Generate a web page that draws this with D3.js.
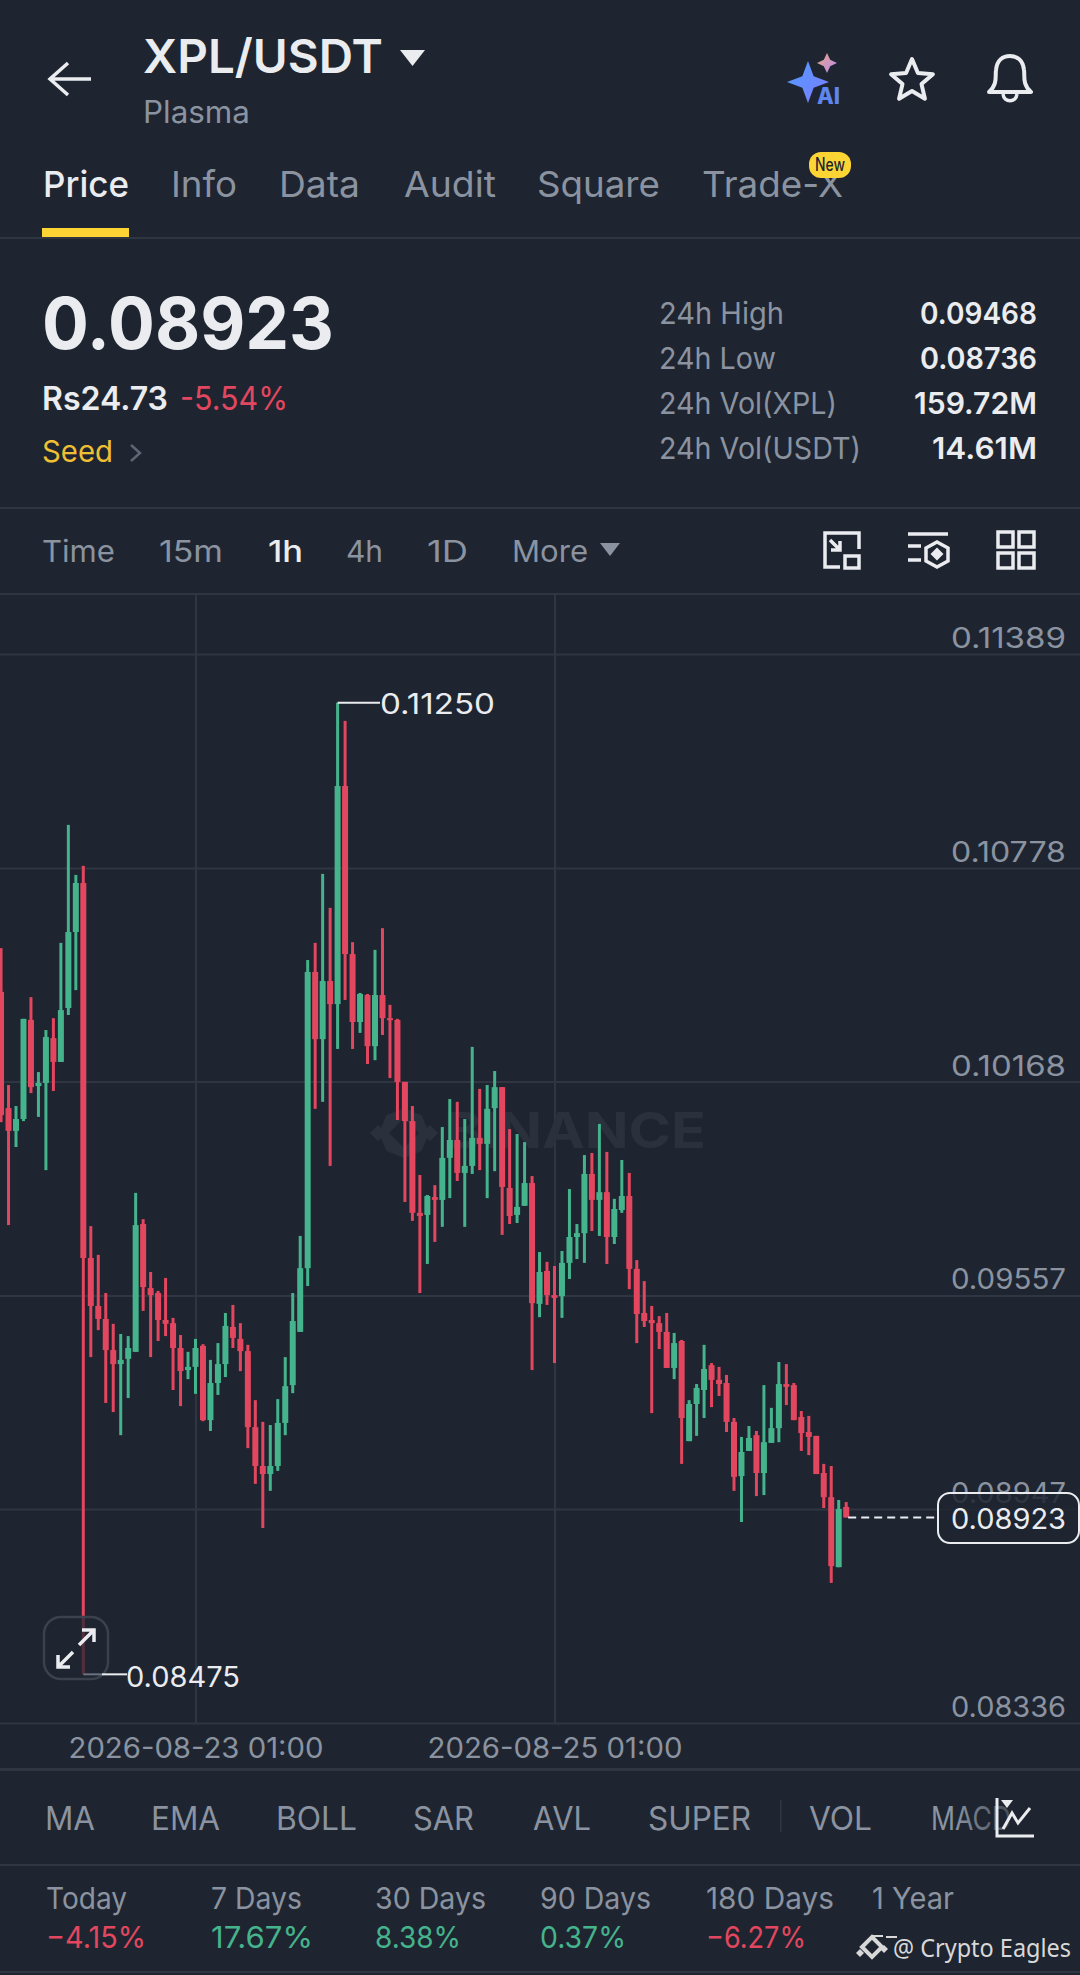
<!DOCTYPE html>
<html>
<head>
<meta charset="utf-8">
<title>XPL/USDT</title>
<script src="https://cdn.jsdelivr.net/npm/d3@7"></script>
<style>
html,body{margin:0;padding:0;background:#1e2530;}
svg{display:block;}
text{font-family:Inter,"Noto Sans",sans-serif;}
</style>
</head>
<body>
<div id="chart"></div>
<script>
// candles, one per hour, oldest first
var firstCandle = new Date(Date.UTC(2026,7,21,23));
var opens = [
	.10424,.10092,.10027,.10061,.10344,.10155,.10164,.10292,.10224,.10378,
	.10595,.10735,.09664,.09527,.09490,.09401,.09361,.09376,.09396,.09761,
	.09578,.09564,.09487,.09478,.09407,.09344,.09353,.09413,.09201,.09307,
	.09361,.09467,.09433,.09398,.09181,.09070,.09047,.09070,.09193,.09301,
	.09453,.09635,.10481,.10289,.10455,.10389,.11012,.10532,.10338,.10415,
	.10269,.10415,.10349,.10344,.10167,.10055,.09793,.09787,.09838,.09830,
	.09950,.10001,.09907,.09927,.10007,.09990,.10092,.10152,.09864,.09787,
	.09813,.09878,.09533,.09627,.09558,.09555,.09650,.09724,.09735,.09904,
	.09830,.09852,.09724,.09801,.09841,.09633,.09507,.09487,.09478,.09453,
	.09350,.09427,.09141,.09247,.09287,.09358,.09316,.09307,.09196,.09041,
	.09113,.09158,.09050,.09136,.09178,.09304,.09301,.09210,.09167,.09156,
	.09050,.08981,.08781,.08953];
var highs = [
	.10549,.10158,.10098,.10347,.10409,.10195,.10315,.10349,.10564,.10901,
	.10758,.10784,.09755,.09673,.09564,.09476,.09447,.09441,.09850,.09775,
	.09624,.09570,.09607,.09493,.09444,.09396,.09433,.09418,.09373,.09421,
	.09507,.09530,.09478,.09416,.09258,.09196,.09187,.09261,.09381,.09564,
	.09727,.10515,.10564,.10761,.10664,.11250,.11198,.10566,.10421,.10418,
	.10544,.10606,.10387,.10347,.10167,.10098,.09901,.09844,.09872,.10038,
	.10118,.10110,.10061,.10267,.10147,.10158,.10198,.10152,.10032,.10018,
	.09995,.09898,.09681,.09653,.09641,.09684,.09861,.09761,.09958,.09964,
	.10047,.09967,.09833,.09944,.09907,.09658,.09598,.09527,.09498,.09507,
	.09450,.09430,.09258,.09304,.09416,.09364,.09353,.09330,.09207,.09153,
	.09184,.09170,.09301,.09236,.09367,.09361,.09307,.09227,.09213,.09156,
	.09076,.09070,.08973,.08967];
var lows = [
	.10052,.09758,.09981,.10055,.10135,.10067,.09915,.10141,.10224,.10358,
	.10429,.08475,.09381,.09458,.09250,.09224,.09158,.09264,.09396,.09513,
	.09381,.09427,.09441,.09287,.09241,.09318,.09276,.09198,.09170,.09273,
	.09324,.09407,.09341,.09121,.09019,.08893,.08999,.09056,.09158,.09278,
	.09453,.09584,.10090,.10110,.09927,.10261,.10401,.10261,.10307,.10218,
	.10229,.10301,.10178,.10058,.09824,.09770,.09564,.09647,.09710,.09753,
	.09835,.09884,.09753,.09904,.09915,.09835,.09912,.09730,.09761,.09764,
	.09813,.09344,.09495,.09530,.09364,.09493,.09604,.09661,.09650,.09741,
	.09727,.09647,.09704,.09793,.09575,.09421,.09467,.09221,.09404,.09350,
	.09318,.09076,.09141,.09156,.09207,.09238,.09270,.09167,.08999,.08910,
	.09113,.08984,.08987,.09136,.09138,.09244,.09201,.09113,.09101,.09047,
	.08950,.08736,.08781,.08923];
var closes = [
	.10072,.10027,.10061,.10347,.10152,.10164,.10295,.10224,.10372,.10595,
	.10735,.09664,.09527,.09490,.09401,.09361,.09373,.09407,.09758,.09581,
	.09558,.09487,.09476,.09407,.09341,.09353,.09407,.09201,.09307,.09361,
	.09470,.09436,.09398,.09181,.09070,.09047,.09070,.09193,.09298,.09484,
	.09635,.10481,.10289,.10455,.10389,.11012,.10532,.10338,.10418,.10269,
	.10415,.10349,.10344,.10167,.10055,.09793,.09784,.09841,.09830,.09950,
	.10001,.09907,.09927,.10007,.09990,.10090,.10152,.09867,.09784,.09810,
	.09878,.09535,.09624,.09558,.09550,.09650,.09724,.09735,.09904,.09830,
	.09852,.09724,.09804,.09841,.09633,.09504,.09484,.09478,.09453,.09350,
	.09421,.09207,.09247,.09293,.09347,.09316,.09304,.09196,.09039,.09110,
	.09150,.09050,.09138,.09178,.09304,.09296,.09201,.09164,.09153,.09047,
	.08981,.08784,.08947,.08923];

var priceTicks = [.11389,.10778,.10168,.09557,.08947,.08336];
var timeTicks = [new Date(Date.UTC(2026,7,23,1)), new Date(Date.UTC(2026,7,25,1))];
var lastPrice = .08923;
var maxPrice = .11250;
var minPrice = .08475;

var tabLabels = ['Price','Info','Data','Audit','Square','Trade-X'];
var rangeLabels = ['Time','15m','1h','4h','1D','More'];
var statLabels = ['24h High','24h Low','24h Vol(XPL)','24h Vol(USDT)'];
var statValues = ['0.09468','0.08736','159.72M','14.61M'];
var indicatorLabels = ['MA','EMA','BOLL','SAR','AVL','SUPER','VOL','MACD'];
var periodLabels = ['Today','7 Days','30 Days','90 Days','180 Days','1 Year'];
var periodValues = [-4.15,17.67,8.38,.37,-6.27];

var WHITE = '#eaecef', GREY = '#8b93a0', RED = '#e2475f', GREEN = '#45b38c', YELLOW = '#fcd535';
var BG = '#1e2530', LINE = '#2f3642';

var svg = d3.select('#chart').append('svg').attr('width',1080).attr('height',1975);
svg.append('rect').attr('width',1080).attr('height',1975).attr('fill',BG);

var defs = svg.append('defs');
var sparkFill = defs.append('linearGradient').attr('id','spark').attr('x1',0).attr('y1',0).attr('x2',1).attr('y2',1);
sparkFill.append('stop').attr('offset',0).attr('stop-color','#4f9dff');
sparkFill.append('stop').attr('offset',1).attr('stop-color','#7f7bff');
var sparkFill2 = defs.append('linearGradient').attr('id','spark2').attr('x1',0).attr('y1',0).attr('x2',1).attr('y2',1);
sparkFill2.append('stop').attr('offset',0).attr('stop-color','#e6a37f');
sparkFill2.append('stop').attr('offset',1).attr('stop-color','#b78cf5');
var fade = defs.append('linearGradient').attr('id','fade');
fade.append('stop').attr('offset',0).attr('stop-color',BG).attr('stop-opacity',0);
fade.append('stop').attr('offset',.7).attr('stop-color',BG).attr('stop-opacity',1);

function label(g,str,x,y,size,fill,weight,width,anchor){
	var t = g.append('text').attr('x',x).attr('y',y).attr('font-size',size).attr('fill',fill)
		.attr('font-weight',weight || 400).attr('text-anchor',anchor || 'start').text(str);
	if(width){
		t.attr('textLength',width).attr('lengthAdjust','spacingAndGlyphs');
	}
	return t;
}
function hline(y,h){
	svg.append('rect').attr('x',0).attr('y',y).attr('width',1080).attr('height',h || 2).attr('fill',LINE);
}
function star(cx,cy,r,inner,n,rot){
	var pts = [];
	for(var i=0;i<n*2;i++){
		var a = rot + i*Math.PI/n;
		var rr = i%2 ? inner : r;
		pts.push([cx+rr*Math.sin(a),cy-rr*Math.cos(a)]);
	}
	return 'M'+pts.join('L')+'Z';
}

// header
var head = svg.append('g');
head.append('path').attr('d','M91 79H51M68 63L50 79L68 95').attr('fill','none').attr('stroke',WHITE).attr('stroke-width',3.5);
label(head,'XPL/USDT',143,73,47,WHITE,600,240);
head.append('path').attr('d','M400 50H425L412.5 66Z').attr('fill',WHITE);
label(head,'Plasma',143,123,31,GREY,400,107);
head.append('path').attr('d',star(808,82,21,8,4,0)).attr('fill','url(#spark)');
head.append('path').attr('d',star(827,63,10,4.5,4,0)).attr('fill','url(#spark2)');
label(head,'AI',817,104,23,'#5f86ef',800,23);
head.append('path').attr('d',star(912,81,22,10,5,0)).attr('fill','none').attr('stroke',WHITE).attr('stroke-width',4).attr('stroke-linejoin','round');
head.append('path').attr('d','M989 92C998 84 995 76 996 70C997 60 1003 56 1010 56C1017 56 1023 60 1024 70C1025 76 1022 84 1031 92Z')
	.attr('fill','none').attr('stroke',WHITE).attr('stroke-width',4).attr('stroke-linejoin','round');
head.append('path').attr('d','M1003 94C1004 103 1016 103 1017 94').attr('fill','none').attr('stroke',WHITE).attr('stroke-width',3.5);

// tabs
var tabX = [43,171,279,404,537,702];
var tabW = [86,66,81,92,123,141];
tabLabels.forEach(function(d,i){
	label(svg,d,tabX[i],197,36,i==0 ? WHITE : GREY,i==0 ? 500 : 400,tabW[i]);
});
svg.append('rect').attr('x',809).attr('y',152).attr('width',42).attr('height',26).attr('rx',12).attr('fill',YELLOW);
label(svg,'New',830,171,18,'#1e2530',500,30,'middle');
svg.append('rect').attr('x',42).attr('y',228).attr('width',87).attr('height',9).attr('fill',YELLOW);
hline(237);

// price block
label(svg,'0.08923',42,349,72,WHITE,700,292);
label(svg,'Rs24.73',42,410,33,WHITE,600,126);
label(svg,'-5.54%',180,410,33,RED,400,108);
label(svg,'Seed',42,462,30,'#eebf35',400,71);
svg.append('path').attr('d','M131 445L140 453L131 461').attr('fill','none').attr('stroke','#5d6673').attr('stroke-width',2.5);
var statY = [324,369,414,459];
var statW = [125,117,178,202];
var statVW = [117,117,123,105];
statLabels.forEach(function(d,i){
	label(svg,d,659,statY[i],30,GREY,400,statW[i]);
	label(svg,statValues[i],1037,statY[i],30,WHITE,600,statVW[i],'end');
});
hline(507);

// time range row
var rangeX = [42,159,268,346,427,512];
var rangeW = [73,64,35,37,41,76];
rangeLabels.forEach(function(d,i){
	label(svg,d,rangeX[i],562,30,i==2 ? WHITE : GREY,i==2 ? 500 : 400,rangeW[i]);
});
svg.append('path').attr('d','M600 543H620L610 556Z').attr('fill',GREY);

var tools = svg.append('g').attr('fill','none').attr('stroke',WHITE).attr('stroke-width',3.5);
tools.append('path').attr('d','M840 567H825V533H859V549M830 540L840 550M840 541V550H831');
tools.append('rect').attr('x',845).attr('y',556).attr('width',14).attr('height',12);
tools.append('path').attr('d','M908 534H948M908 546H921M908 560H921');
tools.append('path').attr('d','M937 542L948 548V561L937 567L926 561V548Z');
tools.append('path').attr('d','M937 550L941 554L937 558L933 554Z').attr('fill',WHITE);
[998,1019].forEach(function(x){
	[532,553].forEach(function(y){
		tools.append('rect').attr('x',x).attr('y',y).attr('width',15).attr('height',15);
	});
});
hline(593);

// scales and axes
var x = d3.scaleUtc().domain(timeTicks).range([195.5,554.5]);
var y = d3.scaleLinear().domain([priceTicks[5],priceTicks[0]]).range([1723,654]);

var yAxis = svg.append('g').attr('transform','translate(1080,0)')
	.call(d3.axisLeft(y).tickValues(priceTicks).tickFormat(d3.format('.5f')).tickSize(1080));
yAxis.select('.domain').remove();
yAxis.selectAll('.tick line').attr('stroke',LINE).attr('stroke-width',2);
yAxis.selectAll('.tick text').attr('x',-14).attr('y',-6.5).attr('dy',0)
	.attr('font-size',28).attr('font-family','Inter').attr('fill',GREY)
	.attr('textLength',115).attr('lengthAdjust','spacingAndGlyphs');

var xAxis = svg.append('g').attr('transform','translate(0,1723)')
	.call(d3.axisBottom(x).tickValues(timeTicks).tickFormat(d3.utcFormat('%Y-%m-%d %H:%M')).tickSize(-1130));
xAxis.select('.domain').remove();
xAxis.selectAll('.tick line').attr('stroke',LINE).attr('stroke-width',2);
xAxis.selectAll('.tick text').attr('y',35).attr('dy',0)
	.attr('font-size',28).attr('font-family','Inter').attr('fill',GREY)
	.attr('textLength',255).attr('lengthAdjust','spacingAndGlyphs');

// watermark sits under the candles
var mark = svg.append('g').attr('fill','#2a313d');
mark.append('path').attr('d',star(404,1133,25,25,4,0));
mark.append('path').attr('d','M404 1118L419 1133L404 1148L389 1133Z').attr('fill',BG);
mark.append('path').attr('d','M378 1125L386 1133L378 1141L370 1133Z');
mark.append('path').attr('d','M430 1125L438 1133L430 1141L422 1133Z');
label(mark,'BINANCE',444,1148,50,'#2a313d',700,262);

// candles
var candles = opens.map(function(d,i){
	return {time: d3.utcHour.offset(firstCandle,i), open: d, high: highs[i], low: lows[i], close: closes[i]};
});
var candle = svg.append('g').selectAll('g').data(candles).enter().append('g')
	.attr('fill',function(d){ return d.close >= d.open ? GREEN : RED; });
candle.append('rect')
	.attr('x',function(d){ return x(d.time)-1.5; })
	.attr('y',function(d){ return y(d.high); })
	.attr('width',3)
	.attr('height',function(d){ return y(d.low)-y(d.high); });
candle.append('rect')
	.attr('x',function(d){ return x(d.time)-3; })
	.attr('y',function(d){ return y(Math.max(d.open,d.close)); })
	.attr('width',6)
	.attr('height',function(d){ return Math.max(Math.abs(y(d.open)-y(d.close)),2); });

// high and low callouts
var hiCandle = candles.find(function(d){ return d.high == maxPrice; });
var loCandle = candles.find(function(d){ return d.low == minPrice; });
svg.append('line').attr('x1',x(hiCandle.time)).attr('x2',380).attr('y1',y(maxPrice)).attr('y2',y(maxPrice)).attr('stroke',WHITE).attr('stroke-width',2);
label(svg,d3.format('.5f')(maxPrice),380,714,28,WHITE,400,115);

// expand button
svg.append('rect').attr('x',44).attr('y',1617).attr('width',64).attr('height',62).attr('rx',17)
	.attr('fill',BG).attr('fill-opacity',.72).attr('stroke','#3b424e').attr('stroke-width',2.5);
svg.append('path').attr('d','M79 1645L94 1630M82 1630H94V1642M73 1652L58 1667M70 1667H58V1655')
	.attr('fill','none').attr('stroke',WHITE).attr('stroke-width',3.5);
svg.append('line').attr('x1',x(loCandle.time)).attr('x2',102).attr('y1',y(minPrice)).attr('y2',y(minPrice)).attr('stroke','#6b7280').attr('stroke-width',2);
svg.append('line').attr('x1',102).attr('x2',127).attr('y1',y(minPrice)).attr('y2',y(minPrice)).attr('stroke',WHITE).attr('stroke-width',2);
label(svg,d3.format('.5f')(minPrice),126,1687,28,WHITE,400,114);

// last price tag
svg.append('line').attr('x1',x(candles[candles.length-1].time)+2).attr('x2',935).attr('y1',y(lastPrice)).attr('y2',y(lastPrice))
	.attr('stroke',WHITE).attr('stroke-width',2).attr('stroke-dasharray','8 5');
svg.append('rect').attr('x',938).attr('y',1493).attr('width',141).attr('height',50).attr('rx',12)
	.attr('fill',BG).attr('fill-opacity',.85).attr('stroke',WHITE).attr('stroke-width',2);
label(svg,d3.format('.5f')(lastPrice),951,1529,28,WHITE,400,115);

// indicators
hline(1768,3);
var indX = [45,151,276,413,533,648,809,931];
var indW = [50,69,81,61,58,103,63,80];
indicatorLabels.forEach(function(d,i){
	label(svg,d,indX[i],1830,32,GREY,400,indW[i]);
});
svg.append('rect').attr('x',780).attr('y',1800).attr('width',1.5).attr('height',32).attr('fill',LINE);
svg.append('rect').attr('x',955).attr('y',1790).attr('width',125).attr('height',55).attr('fill','url(#fade)');
svg.append('path').attr('d','M997 1798V1836H1034').attr('fill','none').attr('stroke',WHITE).attr('stroke-width',3);
svg.append('path').attr('d','M1003 1829L1012 1813L1018 1823L1030 1808').attr('fill','none').attr('stroke',WHITE).attr('stroke-width',3);
svg.append('path').attr('d','M1001 1800H1013L1007 1808Z').attr('fill',WHITE);
hline(1864);

// period change
var periodX = [46,211,375,540,706,872];
var periodW = [81,91,111,111,128,82];
var periodVW = [100,102,86,86,100];
periodLabels.forEach(function(d,i){
	label(svg,d,periodX[i],1909,30,GREY,400,periodW[i]);
});
periodValues.forEach(function(d,i){
	label(svg,d3.format('.2f')(d)+'%',periodX[i],1948,30,d<0 ? RED : GREEN,400,periodVW[i]);
});
hline(1971);

// repost stamp
var stamp = svg.append('g').attr('fill','#d8d8d8');
stamp.append('path').attr('d','M872 1937L882 1947L872 1957L862 1947Z').attr('fill','none').attr('stroke','#d8d8d8').attr('stroke-width',4);
stamp.append('path').attr('d','M860 1949L864 1953L860 1957L856 1953Z');
stamp.append('path').attr('d','M884 1945L888 1949L884 1953L880 1949Z');
stamp.append('path').attr('d','M873 1936H883M886 1937H897').attr('stroke','#d8d8d8').attr('stroke-width',2);
stamp.append('text').attr('x',893).attr('y',1957).attr('font-size',25).attr('style','font-family:"Noto Sans"')
	.attr('textLength',178).attr('lengthAdjust','spacingAndGlyphs').text('@ Crypto Eagles');
</script>
</body>
</html>
